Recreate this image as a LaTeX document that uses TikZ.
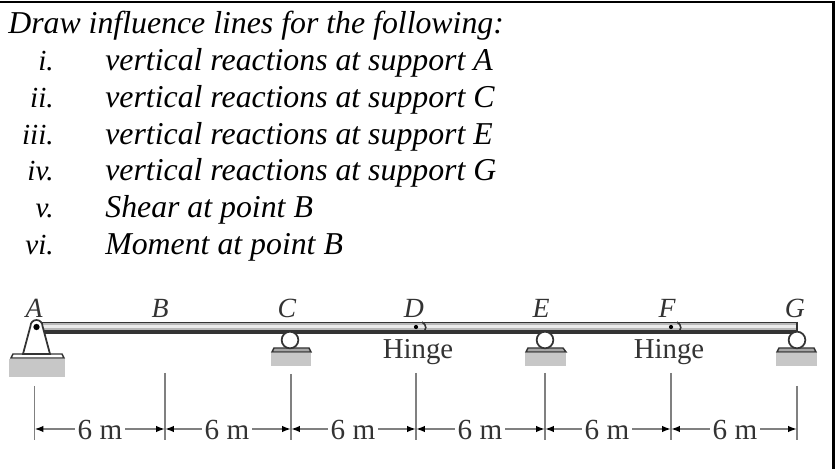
\documentclass[tikz,border=0pt]{standalone}
\usepackage{fontspec}
\setmainfont{Liberation Serif}
\usepackage{tikz}
\usetikzlibrary{arrows.meta,positioning}
\definecolor{beamgray}{gray}{0.72}
\definecolor{basegray}{gray}{0.78}
\definecolor{ticgray}{gray}{0.5}
\definecolor{inkgray}{gray}{0.2}
\tikzset{
  task/.style={anchor=base west, inner sep=0pt, font=\fontsize{18.1}{22}\selectfont\itshape},
  tasknum/.style={anchor=base east, inner sep=0pt, font=\fontsize{16.6}{22}\selectfont\itshape},
  ptlabel/.style={inner sep=0pt, font=\fontsize{15.8}{18}\selectfont\itshape, text=inkgray},
  hingelabel/.style={inner sep=0pt, font=\fontsize{16.4}{18}\selectfont, text=inkgray},
  spanlabel/.style={inner sep=1.5pt, font=\fontsize{16.6}{18}\selectfont, text=inkgray},
  tic/.style={ticgray, line width=0.9pt},
  spanline/.style={ticgray, line width=0.9pt, -{Latex[length=5pt,width=3.6pt,black]}},
  plate/.style={draw=inkgray, line width=0.8pt, fill=gray!70},
  roller/.style={circle, draw=inkgray, line width=1pt, fill=white, minimum size=9.5pt, inner sep=0pt},
  hingepin/.style={circle, fill=black, minimum size=2.4pt, inner sep=0pt}
}
\begin{document}
\begin{tikzpicture}[x=0.02cm,y=-0.02cm]
\useasboundingbox (0,0) rectangle (835,469);
% frame, only top and right
\draw [black, line width=1.7pt] (0,2) -- (833,2) -- (833,469);
% text
\node [task] (head) at (8,34) {Draw influence lines for the following:};
\node [tasknum] (n1) at (54,71) {i.};
\node [tasknum] (n2) at (54,108) {ii.};
\node [tasknum] (n3) at (54,145) {iii.};
\node [tasknum] (n4) at (54,181) {iv.};
\node [tasknum] (n5) at (54,218) {v.};
\node [tasknum] (n6) at (54,255) {vi.};
\node [task] (t1) at (105,71) {vertical reactions at support A};
\node [task] (t2) at (105,108) {vertical reactions at support C};
\node [task] (t3) at (105,145) {vertical reactions at support E};
\node [task] (t4) at (105,181) {vertical reactions at support G};
\node [task] (t5) at (105,218) {Shear at point B};
\node [task] (t6) at (105,255) {Moment at point B};
% supports, ground first
\fill [basegray] (9,359) rectangle (65,377);
\fill [basegray] (271,353) rectangle (311,366);
\fill [basegray] (525,353) rectangle (566,366);
\fill [basegray] (776,353) rectangle (817,366);
\draw [plate, fill=white] (11,358) -- (13,354) -- (62,354) -- (64,358) -- cycle;
\draw [plate] (272,352) -- (274,348) -- (309,348) -- (311,352) -- cycle;
\draw [plate] (526,352) -- (528,348) -- (563,348) -- (566,352) -- cycle;
\draw [plate] (777,352) -- (779,348) -- (814,348) -- (816,352) -- cycle;
% beam
\fill [beamgray] (40,323) rectangle (797,333);
\fill [white!85!gray] (40,325) rectangle (797,328);
\draw [inkgray, line width=1pt] (40,322.5) -- (797,322.5);
\draw [inkgray, line width=1.8pt] (40,332) -- (797,332);
\draw [inkgray, line width=1pt] (797,322) -- (797,334);
% pin at A
\draw [inkgray, line width=1pt, fill=white] (23,354) -- (30.5,326) arc [start angle=180, end angle=360, radius=6] -- (50,354) -- cycle;
\node [hingepin, minimum size=3.6pt] (pinA) at (36.5,327) {};
% rollers
\node [roller] (rollC) at (290,340) {};
\node [roller] (rollE) at (545,340) {};
\node [roller] (rollG) at (797,340) {};
% hinges
\node [hingepin] (pinD) at (416,327) {};
\node [hingepin] (pinF) at (671,327) {};
\draw [inkgray, line width=0.9pt] (422,322) .. controls (427,325) and (427,330) .. (422,333);
\draw [inkgray, line width=0.9pt] (677,322) .. controls (682,325) and (682,330) .. (677,333);
% labels
\node [ptlabel] (labA) at (34,308) {A};
\node [ptlabel] (labB) at (160,308) {B};
\node [ptlabel] (labC) at (287,308) {C};
\node [ptlabel] (labD) at (414,308) {D};
\node [ptlabel] (labE) at (541,308) {E};
\node [ptlabel] (labF) at (667,308) {F};
\node [ptlabel] (labG) at (795,308) {G};
\node [hingelabel] (hingeD) at (418,352) {Hinge};
\node [hingelabel] (hingeF) at (669,352) {Hinge};
% dimension tics
\coordinate (ticAt) at (34.5,386);
\coordinate (ticAb) at (34.5,440);
\coordinate (ticBt) at (165,373);
\coordinate (ticBb) at (165,440);
\coordinate (ticCt) at (291,374);
\coordinate (ticCb) at (291,440);
\coordinate (ticDt) at (416,373);
\coordinate (ticDb) at (416,440);
\coordinate (ticEt) at (545,373);
\coordinate (ticEb) at (545,440);
\coordinate (ticFt) at (671,373);
\coordinate (ticFb) at (671,440);
\coordinate (ticGt) at (797,386);
\coordinate (ticGb) at (797,440);
\draw [tic] (ticAt) -- (ticAb);
\draw [tic] (ticBt) -- (ticBb);
\draw [tic] (ticCt) -- (ticCb);
\draw [tic] (ticDt) -- (ticDb);
\draw [tic] (ticEt) -- (ticEb);
\draw [tic] (ticFt) -- (ticFb);
\draw [tic] (ticGt) -- (ticGb);
% dimension points
\coordinate (dimA) at (34.5,429);
\coordinate (dimB) at (165,429);
\coordinate (dimC) at (291,429);
\coordinate (dimD) at (416,429);
\coordinate (dimE) at (545,429);
\coordinate (dimF) at (671,429);
\coordinate (dimG) at (797,429);
\node [spanlabel] (spanAB) at (100,430) {6 m};
\node [spanlabel] (spanBC) at (227,430) {6 m};
\node [spanlabel] (spanCD) at (353,430) {6 m};
\node [spanlabel] (spanDE) at (480,430) {6 m};
\node [spanlabel] (spanEF) at (607,430) {6 m};
\node [spanlabel] (spanFG) at (735,430) {6 m};
\draw [spanline] (spanAB.east |- dimA) -- (dimB);
\draw [spanline] (spanAB.west |- dimA) -- (dimA);
\draw [spanline] (spanBC.west |- dimB) -- (dimB);
\draw [spanline] (spanBC.east |- dimC) -- (dimC);
\draw [spanline] (spanCD.west |- dimC) -- (dimC);
\draw [spanline] (spanCD.east |- dimD) -- (dimD);
\draw [spanline] (spanDE.west |- dimD) -- (dimD);
\draw [spanline] (spanDE.east |- dimE) -- (dimE);
\draw [spanline] (spanEF.west |- dimE) -- (dimE);
\draw [spanline] (spanEF.east |- dimF) -- (dimF);
\draw [spanline] (spanFG.west |- dimF) -- (dimF);
\draw [spanline] (spanFG.east |- dimG) -- (dimG);
\end{tikzpicture}
\end{document}
